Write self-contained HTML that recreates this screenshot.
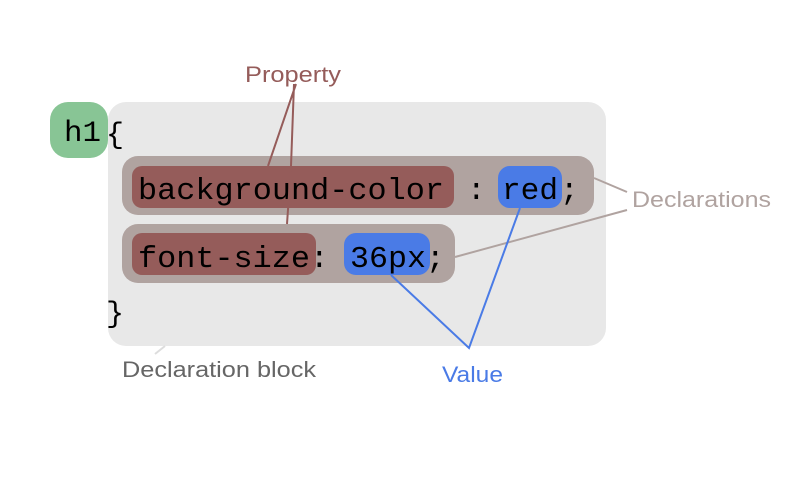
<!DOCTYPE html>
<html><head><style>body{margin:0;background:#fff}svg{display:block}</style></head><body>
<svg width="800" height="484" xmlns="http://www.w3.org/2000/svg">
<rect x="108" y="102" width="498" height="244" rx="18" fill="#e8e8e8"/>
<rect x="50" y="102" width="58" height="56" rx="18" fill="#88c595"/>
<g font-family="Liberation Mono, monospace" font-size="30" fill="#000">
<text x="64" y="141" textLength="37" lengthAdjust="spacingAndGlyphs">h1</text>
<text x="106" y="143">{</text>
<text x="106" y="322">}</text>
</g>
<rect x="122" y="156" width="472" height="59" rx="16" fill="#b0a3a0"/>
<rect x="132" y="166" width="322" height="42" rx="10" fill="#955c5a"/>
<rect x="498" y="166" width="64" height="42" rx="12" fill="#4a7be6"/>
<rect x="122" y="224" width="333" height="59" rx="16" fill="#b0a3a0"/>
<rect x="132" y="233" width="184" height="42" rx="10" fill="#955c5a"/>
<rect x="344" y="233" width="86" height="42" rx="12" fill="#4a7be6"/>
<g font-family="Liberation Mono, monospace" font-size="31" fill="#000">
<text x="138" y="199" textLength="306" lengthAdjust="spacingAndGlyphs">background-color</text>
<text x="467" y="199">:</text>
<text x="502" y="199" textLength="56" lengthAdjust="spacingAndGlyphs">red</text>
<text x="560" y="199">;</text>
<text x="138" y="267" textLength="172" lengthAdjust="spacingAndGlyphs">font-size</text>
<text x="310" y="267">:</text>
<text x="350" y="267" textLength="76" lengthAdjust="spacingAndGlyphs">36px</text>
<text x="426" y="267">;</text>
</g>
<g stroke-width="2" fill="none">
<path d="M296 84 L268 166 M294 84 L291 166 L287 224" stroke="#955c5a"/>
<path d="M594 178 L627 192 M455 257 L627 210" stroke="#b0a3a0"/>
<path d="M520 208 L469 348 L391 275" stroke="#4a7be6"/>
<path d="M165 346 L155 354" stroke="#ddd"/>
</g>
<g font-family="Liberation Sans, sans-serif" font-size="22">
<text x="245" y="82" textLength="96" lengthAdjust="spacingAndGlyphs" fill="#955c5a">Property</text>
<text x="632" y="207" textLength="139" lengthAdjust="spacingAndGlyphs" fill="#b0a3a0">Declarations</text>
<text x="442" y="382" textLength="61" lengthAdjust="spacingAndGlyphs" fill="#4a7be6">Value</text>
<text x="122" y="377" textLength="194" lengthAdjust="spacingAndGlyphs" fill="#666">Declaration block</text>
</g>
</svg>
</body></html>
